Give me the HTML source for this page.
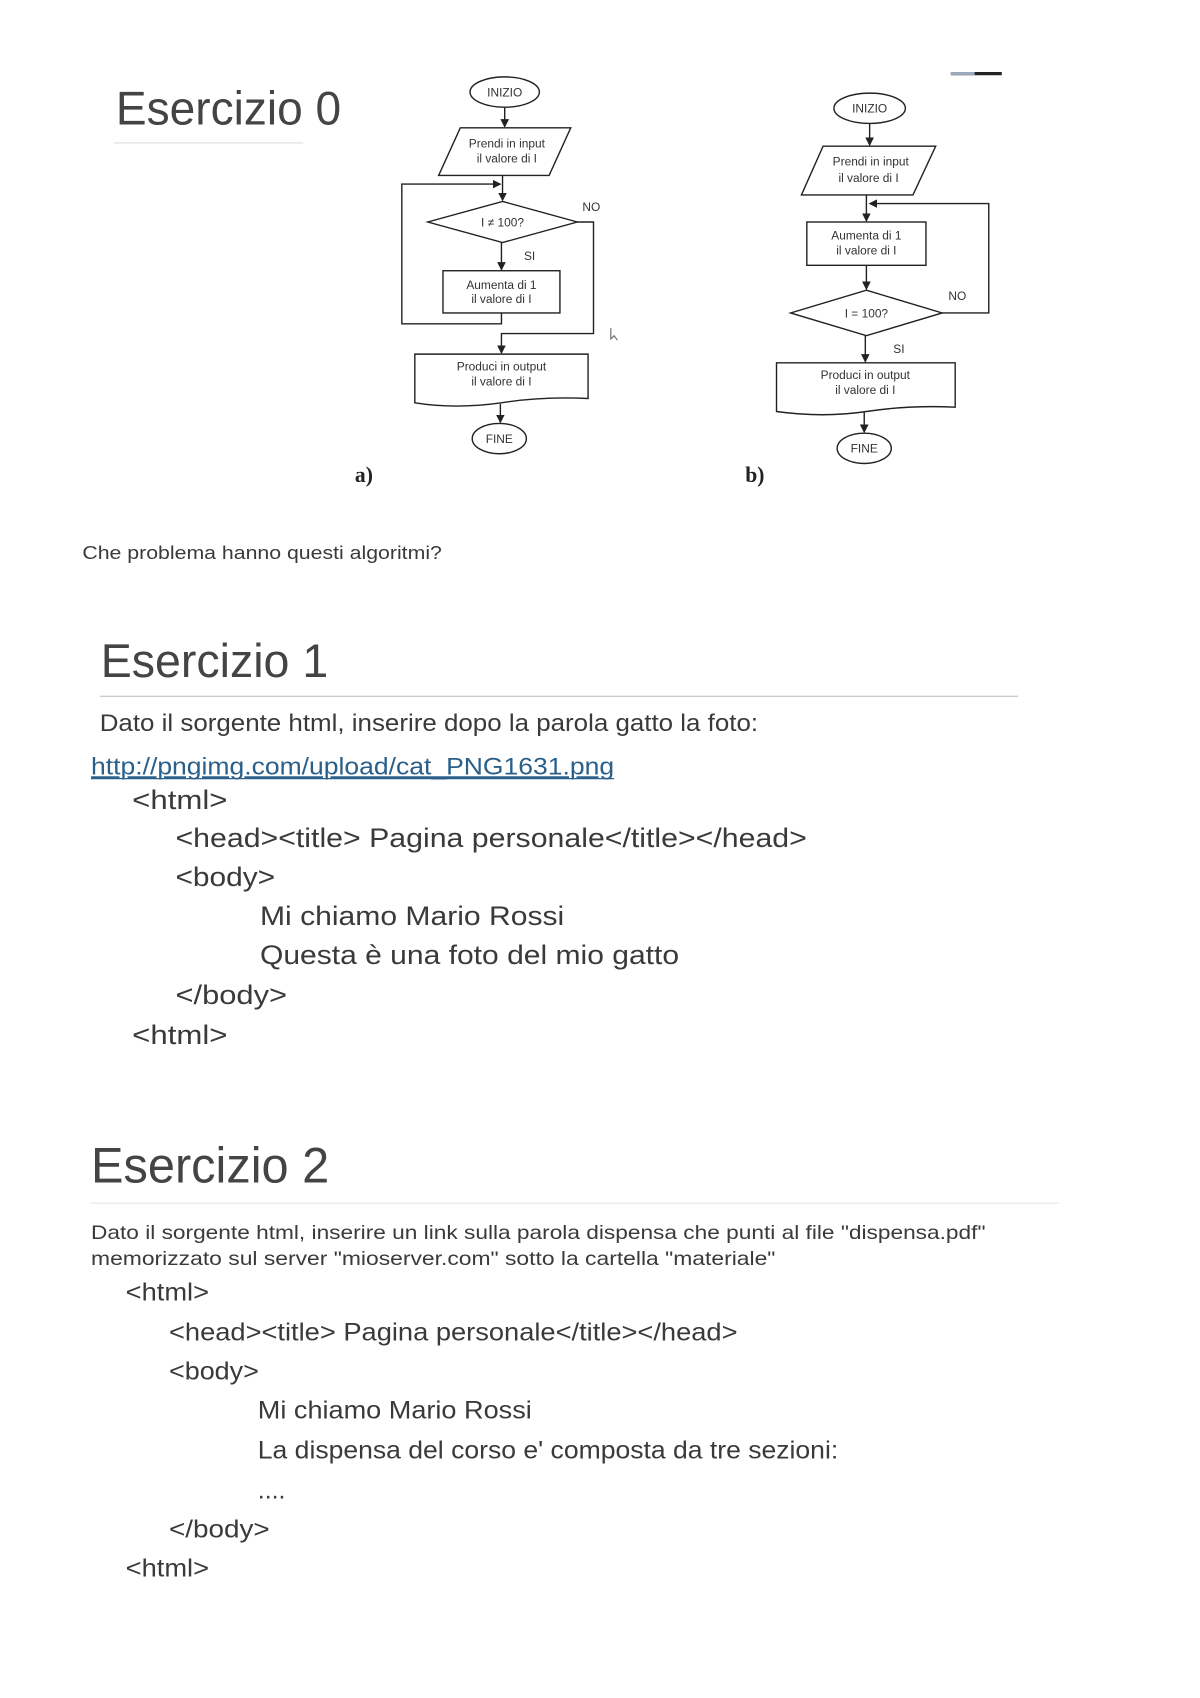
<!DOCTYPE html>
<html><head><meta charset="utf-8"><style>
html,body{margin:0;padding:0;background:#fff;width:1200px;height:1698px;overflow:hidden}
svg{display:block}
.t{font-family:"Liberation Sans",sans-serif;fill:#3a3a3a}
.h{font-family:"Liberation Sans",sans-serif;fill:#444;font-weight:normal}
.fc{font-family:"Liberation Sans",sans-serif;fill:#333;font-size:11px}
.s{stroke:#222;stroke-width:1.3;fill:none}
</style></head><body>
<svg width="1200" height="1698" viewBox="0 0 1108 1568" xmlns="http://www.w3.org/2000/svg">
<defs><marker id="a" markerWidth="8" markerHeight="8" refX="7" refY="4" orient="auto" markerUnits="userSpaceOnUse"><path d="M0,0 L8,4 L0,8z" fill="#222"/></marker></defs>
<text class="h" x="107" y="115" font-size="44" textLength="208" lengthAdjust="spacingAndGlyphs">Esercizio 0</text>
<line x1="105" y1="132" x2="280" y2="132" stroke="#ddd" stroke-width="1"/>
<line x1="878" y1="68" x2="925" y2="68" stroke="#222" stroke-width="3"/>
<line x1="878" y1="68" x2="900" y2="68" stroke="#9ab" stroke-width="3"/>

<!-- flowchart a -->
<ellipse class="s" cx="466" cy="85" rx="32" ry="14"/>
<text class="fc" x="466" y="89" text-anchor="middle">INIZIO</text>
<line class="s" x1="466" y1="99" x2="466" y2="117" marker-end="url(#a)"/>
<path class="s" d="M425,118 L527,118 L507,162 L405,162Z"/>
<text class="fc" x="468" y="136" text-anchor="middle">Prendi in input</text>
<text class="fc" x="468" y="150" text-anchor="middle">il valore di I</text>
<line class="s" x1="464" y1="162" x2="464" y2="185" marker-end="url(#a)"/>
<path class="s" d="M464,186 L533,205 L464,224 L395,205Z"/>
<text class="fc" x="464" y="209" text-anchor="middle">I ≠ 100?</text>
<text class="fc" x="546" y="195" text-anchor="middle">NO</text>
<line class="s" x1="463" y1="224" x2="463" y2="249" marker-end="url(#a)"/>
<text class="fc" x="489" y="240" text-anchor="middle">SI</text>
<rect class="s" x="409" y="250" width="108" height="39"/>
<text class="fc" x="463" y="267" text-anchor="middle">Aumenta di 1</text>
<text class="fc" x="463" y="280" text-anchor="middle">il valore di I</text>
<path class="s" d="M463,289 L463,299 L371,299 L371,170 L462,170" marker-end="url(#a)"/>
<path class="s" d="M533,205 L548,205 L548,308 L463,308 L463,326" marker-end="url(#a)"/>
<path class="s" d="M383,327 L543,327 L543,368 Q500,366 463,372 Q420,378 383,372Z"/>
<text class="fc" x="463" y="342" text-anchor="middle">Produci in output</text>
<text class="fc" x="463" y="356" text-anchor="middle">il valore di I</text>
<line class="s" x1="462" y1="373" x2="462" y2="390" marker-end="url(#a)"/>
<ellipse class="s" cx="461" cy="405" rx="25" ry="14"/>
<text class="fc" x="461" y="409" text-anchor="middle">FINE</text>
<text x="336" y="445" font-family="Liberation Serif,serif" font-weight="bold" font-size="20" text-anchor="middle" fill="#222">a)</text>
<path d="M564,303 L564,313 L567,310 L570,314" stroke="#666" fill="none" stroke-width="1"/>

<!-- flowchart b -->
<ellipse class="s" cx="803" cy="100" rx="33" ry="14"/>
<text class="fc" x="803" y="104" text-anchor="middle">INIZIO</text>
<line class="s" x1="803" y1="114" x2="803" y2="134" marker-end="url(#a)"/>
<path class="s" d="M760,135 L864,135 L843,180 L740,180Z"/>
<text class="fc" x="804" y="153" text-anchor="middle">Prendi in input</text>
<text class="fc" x="802" y="168" text-anchor="middle">il valore di I</text>
<line class="s" x1="800" y1="180" x2="800" y2="204" marker-end="url(#a)"/>
<rect class="s" x="745" y="205" width="110" height="40"/>
<text class="fc" x="800" y="221" text-anchor="middle">Aumenta di 1</text>
<text class="fc" x="800" y="235" text-anchor="middle">il valore di I</text>
<line class="s" x1="800" y1="245" x2="800" y2="267" marker-end="url(#a)"/>
<path class="s" d="M800,268 L870,289 L800,310 L730,289Z"/>
<text class="fc" x="800" y="293" text-anchor="middle">I = 100?</text>
<text class="fc" x="884" y="277" text-anchor="middle">NO</text>
<path class="s" d="M870,289 L913,289 L913,188 L803,188" marker-end="url(#a)"/>
<line class="s" x1="799" y1="310" x2="799" y2="334" marker-end="url(#a)"/>
<text class="fc" x="830" y="326" text-anchor="middle">SI</text>
<path class="s" d="M717,335 L882,335 L882,376 Q840,374 800,380 Q760,386 717,380Z"/>
<text class="fc" x="799" y="350" text-anchor="middle">Produci in output</text>
<text class="fc" x="799" y="364" text-anchor="middle">il valore di I</text>
<line class="s" x1="798" y1="381" x2="798" y2="399" marker-end="url(#a)"/>
<ellipse class="s" cx="798" cy="414" rx="25" ry="14"/>
<text class="fc" x="798" y="418" text-anchor="middle">FINE</text>
<text x="697" y="445" font-family="Liberation Serif,serif" font-weight="bold" font-size="20" text-anchor="middle" fill="#222">b)</text>

<text class="t" x="76" y="516" font-size="17" textLength="332" lengthAdjust="spacingAndGlyphs">Che problema hanno questi algoritmi?</text>

<text class="h" x="93" y="625" font-size="44" textLength="210" lengthAdjust="spacingAndGlyphs">Esercizio 1</text>
<line x1="92" y1="643" x2="940" y2="643" stroke="#ccc" stroke-width="1.2"/>
<text class="t" x="92" y="675" font-size="22" textLength="608" lengthAdjust="spacingAndGlyphs">Dato il sorgente html, inserire dopo la parola gatto la foto:</text>
<text x="84" y="715" font-size="22" font-family="Liberation Sans,sans-serif" fill="#2a5f8a" text-decoration="underline" textLength="483" lengthAdjust="spacingAndGlyphs">http://pngimg.com/upload/cat_PNG1631.png</text>
<line x1="84" y1="719" x2="567" y2="719" stroke="#2a5f8a" stroke-width="1.2"/>
<g class="t" font-size="25">
<text x="122" y="747" textLength="88" lengthAdjust="spacingAndGlyphs">&lt;html&gt;</text>
<text x="162" y="782" textLength="583" lengthAdjust="spacingAndGlyphs">&lt;head&gt;&lt;title&gt; Pagina personale&lt;/title&gt;&lt;/head&gt;</text>
<text x="162" y="818" textLength="92" lengthAdjust="spacingAndGlyphs">&lt;body&gt;</text>
<text x="240" y="854" textLength="281" lengthAdjust="spacingAndGlyphs">Mi chiamo Mario Rossi</text>
<text x="240" y="890" textLength="387" lengthAdjust="spacingAndGlyphs">Questa è una foto del mio gatto</text>
<text x="162" y="927" textLength="103" lengthAdjust="spacingAndGlyphs">&lt;/body&gt;</text>
<text x="122" y="964" textLength="88" lengthAdjust="spacingAndGlyphs">&lt;html&gt;</text>
</g>

<text class="h" x="84" y="1092" font-size="46" textLength="220" lengthAdjust="spacingAndGlyphs">Esercizio 2</text>
<line x1="84" y1="1111" x2="978" y2="1111" stroke="#e4e4e4" stroke-width="1"/>
<text class="t" x="84" y="1144" font-size="18" textLength="826" lengthAdjust="spacingAndGlyphs">Dato il sorgente html, inserire un link sulla parola dispensa che punti al file "dispensa.pdf"</text>
<text class="t" x="84" y="1168" font-size="18" textLength="632" lengthAdjust="spacingAndGlyphs">memorizzato sul server "mioserver.com" sotto la cartella "materiale"</text>
<g class="t" font-size="23">
<text x="116" y="1201" textLength="77" lengthAdjust="spacingAndGlyphs">&lt;html&gt;</text>
<text x="156" y="1238" textLength="525" lengthAdjust="spacingAndGlyphs">&lt;head&gt;&lt;title&gt; Pagina personale&lt;/title&gt;&lt;/head&gt;</text>
<text x="156" y="1274" textLength="83" lengthAdjust="spacingAndGlyphs">&lt;body&gt;</text>
<text x="238" y="1310" textLength="253" lengthAdjust="spacingAndGlyphs">Mi chiamo Mario Rossi</text>
<text x="238" y="1347" textLength="536" lengthAdjust="spacingAndGlyphs">La dispensa del corso e' composta da tre sezioni:</text>
<text x="238" y="1384">....</text>
<text x="156" y="1420" textLength="93" lengthAdjust="spacingAndGlyphs">&lt;/body&gt;</text>
<text x="116" y="1456" textLength="77" lengthAdjust="spacingAndGlyphs">&lt;html&gt;</text>
</g>
</svg>
</body></html>
